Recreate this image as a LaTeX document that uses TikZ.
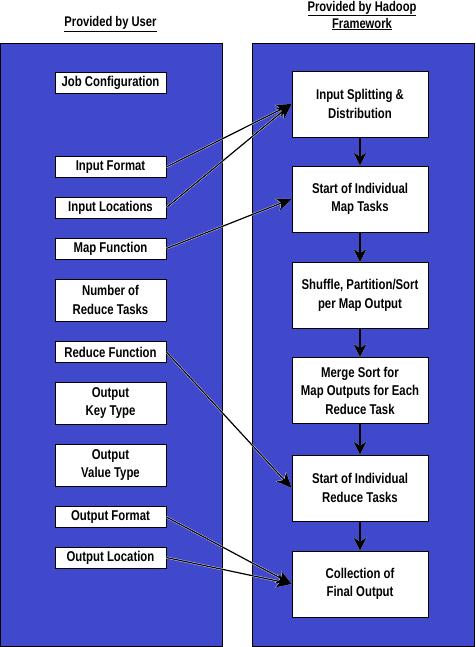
\documentclass[tikz,border=0pt]{standalone}
\usepackage{fontspec}
\setmainfont{Liberation Sans}[FakeStretch=0.8]
\usetikzlibrary{arrows.meta}
\definecolor{panelblue}{RGB}{64,72,204}

\begin{document}
\begin{tikzpicture}[x = 1pt, y = -1pt]
\tikzstyle{panelStyle} = [draw, line width = 0.8pt, fill = panelblue]
\tikzstyle{userStyle} = [draw, line width = 0.8pt, fill = white, minimum width = 111pt, align = center, inner sep = 0pt, font = \bfseries\fontsize{14.2}{18.5}\selectfont]
\tikzstyle{hadoopStyle} = [draw, line width = 0.8pt, fill = white, minimum width = 136pt, minimum height = 66pt, align = center, inner sep = 0pt, font = \bfseries\fontsize{14.2}{18.5}\selectfont]
\tikzstyle{headStyle} = [align = center, font = \bfseries\fontsize{14}{17}\selectfont]
\tikzstyle{flowEdge} = [line width = 1.6pt, -{Stealth[length = 13pt, width = 13pt, inset = 4pt]}, preaction = {draw = white, line width = 2.4pt}]
\tikzstyle{feedEdge} = [line width = 1.2pt, -{Stealth[length = 15pt, width = 13pt, inset = 4pt]}]
\tikzstyle{haloEdge} = [draw = white, line width = 1.9pt, -{Stealth[length = 15.5pt, width = 13.5pt, inset = 4pt]}]
\useasboundingbox (0,0) rectangle (475,647);
% panels
\draw[panelStyle] (0.5,43.5) rectangle (222,646);
\draw[panelStyle] (252.5,43.5) rectangle (474.5,646);
\node[headStyle] (huser) at (110.5,24) {\underline{Provided by User}};
\node[headStyle] (hhadoop) at (362,15.5) {\underline{Provided by Hadoop}\\\underline{Framework}};
% user side
\node[userStyle, minimum height = 21pt] (jobconf) at (110.5,82.5) {Job Configuration};
\node[userStyle, minimum height = 21pt] (inform) at (110.5,167) {Input Format};
\node[userStyle, minimum height = 21pt] (inloc) at (110.5,207.5) {Input Locations};
\node[userStyle, minimum height = 21pt] (mapfn) at (110.5,248.5) {Map Function};
\node[userStyle, minimum height = 42pt] (numred) at (110.5,300) {Number of\\Reduce Tasks};
\node[userStyle, minimum height = 21pt] (redfn) at (110.5,352) {Reduce Function};
\node[userStyle, minimum height = 42pt] (keytype) at (110.5,403) {Output\\Key Type};
\node[userStyle, minimum height = 42pt] (valtype) at (110.5,465) {Output\\Value Type};
\node[userStyle, minimum height = 21pt] (outform) at (110.5,517) {Output Format};
\node[userStyle, minimum height = 21pt] (outloc) at (110.5,557.5) {Output Location};
% hadoop side
\node[hadoopStyle] (split) at (360,104) {Input Splitting \&\\Distribution};
\node[hadoopStyle] (mapstart) at (360,199) {Start of Individual\\Map Tasks};
\node[hadoopStyle] (shuffle) at (360,295.5) {Shuffle, Partition/Sort\\per Map Output};
\node[hadoopStyle] (merge) at (360,390.5) {Merge Sort for\\Map Outputs for Each\\Reduce Task};
\node[hadoopStyle] (redstart) at (360,488) {Start of Individual\\Reduce Tasks};
\node[hadoopStyle] (collect) at (360,584) {Collection of\\Final Output};
% edges
\draw[flowEdge] (split) -- (mapstart);
\draw[flowEdge] (mapstart) -- (shuffle);
\draw[flowEdge] (shuffle) -- (merge);
\draw[flowEdge] (merge) -- (redstart);
\draw[flowEdge] (redstart) -- (collect);
\foreach \from/\to in {inform/split, inloc/split, mapfn/mapstart, redfn/redstart, outform/collect, outloc/collect}
  \draw[haloEdge] (\from.east) -- (\to.west);
\foreach \from/\to in {inform/split, inloc/split, mapfn/mapstart, redfn/redstart, outform/collect, outloc/collect}
  \draw[feedEdge] (\from.east) -- (\to.west);
\end{tikzpicture}
\end{document}
